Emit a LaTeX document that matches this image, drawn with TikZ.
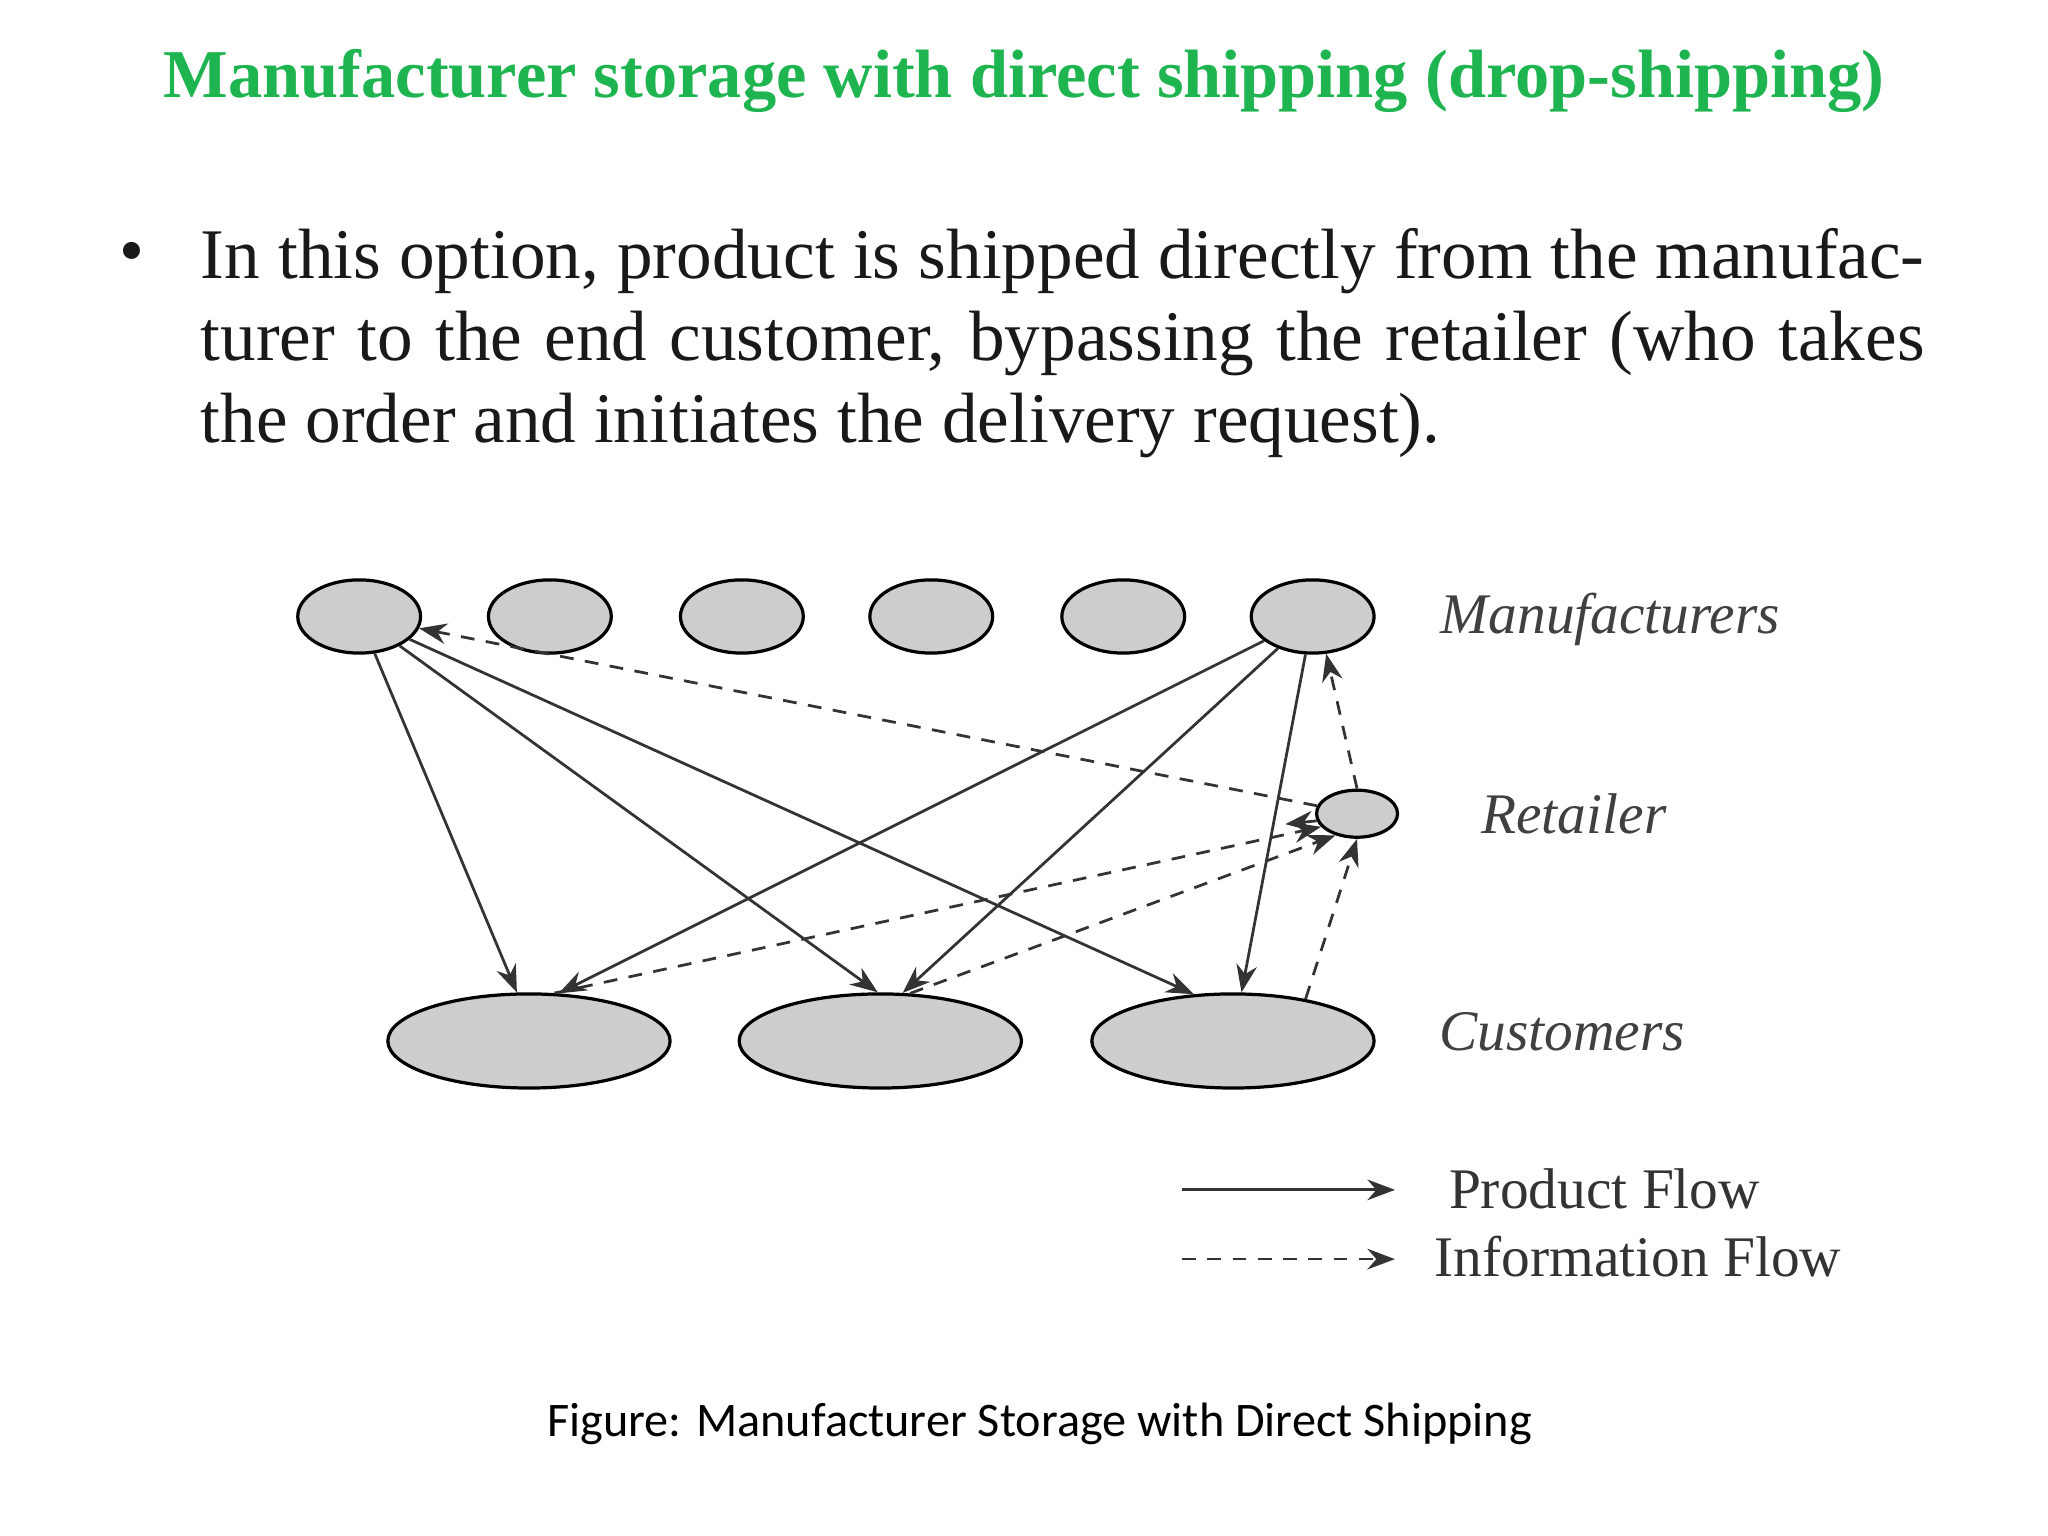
\documentclass[tikz,border=0pt]{standalone}
\usepackage{fontspec}
\setmainfont{Liberation Serif}
\newfontfamily\capfont{Carlito}
\usetikzlibrary{arrows.meta,shapes.geometric}
\definecolor{titlegreen}{RGB}{30,180,80}
\definecolor{nodegray}{RGB}{205,205,205}
\begin{document}
\begin{tikzpicture}[x=0.01cm,y=-0.01cm,
  ell/.style={ellipse,draw,line width=0.7pt,fill=nodegray,inner sep=0pt},
  man/.style={ell,minimum width=0.94cm,minimum height=0.56cm},
  cus/.style={ell,minimum width=2.16cm,minimum height=0.72cm},
  ret/.style={ell,minimum width=0.62cm,minimum height=0.36cm},
  prod/.style={line width=0.6pt,draw=black!80,-{Stealth[length=6pt,width=4.5pt]}},
  info/.style={line width=0.6pt,draw=black!80,dash pattern=on 3pt off 2.5pt,-{Stealth[length=6pt,width=4.5pt]}},
  lab/.style={font=\fontsize{12.5}{14}\selectfont\itshape,text=black!75},
  leg/.style={font=\fontsize{12.5}{14}\selectfont,text=black!80}]
\useasboundingbox (0,0) rectangle (1568,1176);
\node[font=\fontsize{14.9}{17}\selectfont\bfseries,text=titlegreen] (title) at (784,62) {Manufacturer storage with direct shipping (drop-shipping)};
\node[font=\fontsize{15.5}{18}\selectfont,text=black!90] (bul) at (101,198) {\textbullet};
\node[font=\fontsize{15.5}{17.9}\selectfont,text=black!90,anchor=north west,inner sep=0pt,text width=13.19cm,align=justify] (body) at (153,174) {In this option, product is shipped directly from the manufacturer to the end customer, bypassing the retailer (who takes the order and initiates the delivery request).};
% nodes
\foreach \i/\x in {1/275,2/421,3/568,4/713,5/860,6/1005}
  \node[man] (m\i) at (\x,472) {};
\node[ret] (r) at (1039,623) {};
\node[cus] (c1) at (405,797) {};
\node[cus] (c2) at (674,797) {};
\node[cus] (c3) at (944,797) {};
\node[lab] (lm) at (1233,474) {Manufacturers};
\node[lab] (lr) at (1205,623) {Retailer};
\node[lab] (lc) at (1196,790) {Customers};
% product flows
\draw[prod] (m1) -- (c1.104);
\draw[prod] (m1) -- (c2.93);
\draw[prod] (m1) -- (c3.130);
\draw[prod] (m6) -- (c1.58);
\draw[prod] (m6) -- (c2.65);
\draw[prod] (m6) -- (c3.80);
% information flows
\draw[info] (r) -- (m1);
\draw[info] (c1.62) -- (r.200);
\draw[info] (c2.58) -- (r.225);
\draw[info] (c3.30) -- (r.270);
\draw[info] (r.90) -- (m6.-70);
\coordinate (rl) at (984,631);
\draw[info] (r.190) -- (rl);
% legend
\coordinate (p1) at (905,911); \coordinate (p2) at (1068,911);
\coordinate (i1) at (905,964); \coordinate (i2) at (1068,964);
\draw[prod] (p1) -- (p2);
\draw[info] (i1) -- (i2);
\node[leg,anchor=west] (lp) at (1097,910) {Product Flow};
\node[leg,anchor=west] (li) at (1086,962) {Information Flow};
\node[font=\capfont\fontsize{10.5}{12}\selectfont] (cap) at (796,1090) {Figure: Manufacturer Storage with Direct Shipping};
\end{tikzpicture}
\end{document}
